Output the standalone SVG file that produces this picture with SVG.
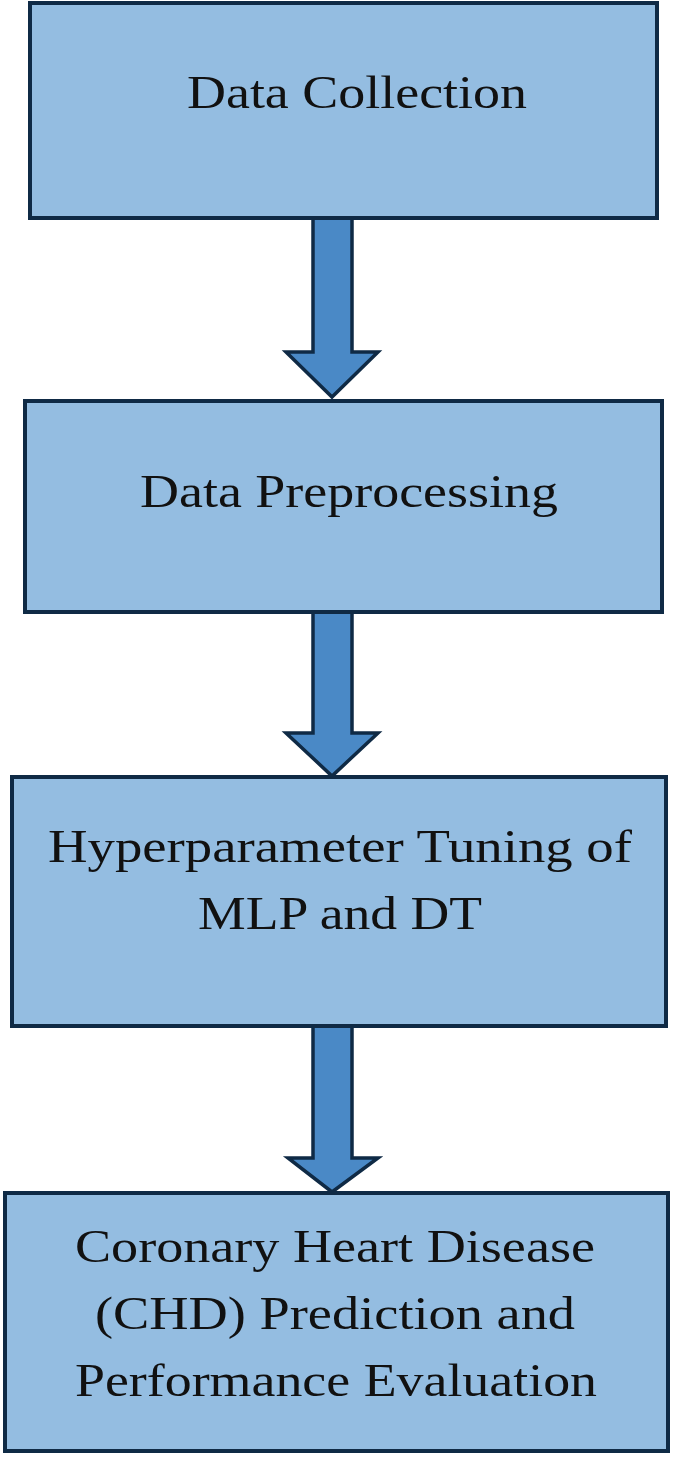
<svg xmlns="http://www.w3.org/2000/svg" width="685" height="1458" viewBox="0 0 685 1458">
<style>
.box{fill:#94bde1;stroke:#0f2a45;stroke-width:4}
.arr{fill:#4a89c6;stroke:#0f2a45;stroke-width:3.5;stroke-linejoin:miter}
.t{font-size:46px;fill:#111;text-anchor:middle}
</style>
<rect width="685" height="1458" fill="#fff"/>
<g id="connectors">
<path class="arr" d="M313,218 V352 H286 L332,397 L378,352 H352 V218 Z"/>
<path class="arr" d="M313,612 V733 H286 L332,776 L378,733 H352 V612 Z"/>
<path class="arr" d="M313,1026 V1158 H288 L332,1192 L378,1158 H352 V1026 Z"/>
</g>
<g font-family="'Liberation Serif', 'Times New Roman', 'DejaVu Serif', serif">
<g id="n1"><rect class="box" x="30" y="3" width="627" height="215"/><text class="t" x="357" y="108" textLength="340" lengthAdjust="spacingAndGlyphs">Data Collection</text></g>
<g id="n2"><rect class="box" x="25" y="401" width="637" height="211"/><text class="t" x="349" y="507" textLength="418" lengthAdjust="spacingAndGlyphs">Data Preprocessing</text></g>
<g id="n3"><rect class="box" x="12" y="777" width="654" height="249"/><text class="t" x="340" y="862" textLength="584" lengthAdjust="spacingAndGlyphs">Hyperparameter Tuning of</text><text class="t" x="340" y="929" textLength="284" lengthAdjust="spacingAndGlyphs">MLP and DT</text></g>
<g id="n4"><rect class="box" x="5" y="1193" width="663" height="258"/><text class="t" x="335" y="1262" textLength="520" lengthAdjust="spacingAndGlyphs">Coronary Heart Disease</text><text class="t" x="335" y="1329" textLength="480" lengthAdjust="spacingAndGlyphs">(CHD) Prediction and</text><text class="t" x="336" y="1396" textLength="522" lengthAdjust="spacingAndGlyphs">Performance Evaluation</text></g>
</g>
</svg>
